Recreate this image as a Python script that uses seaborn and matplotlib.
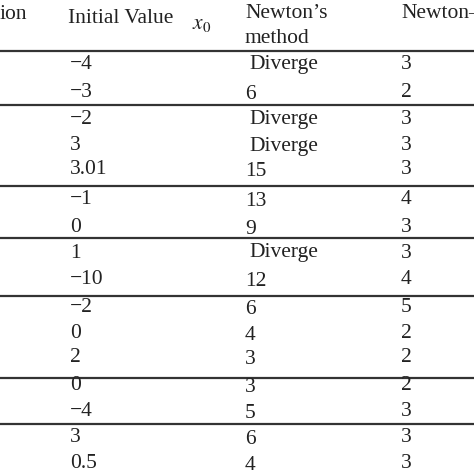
import matplotlib
matplotlib.use("Agg")
import matplotlib.pyplot as plt
import seaborn as sns

sns.set_theme(style="white")
plt.rcParams['font.family'] = ['Liberation Serif', 'DejaVu Serif']
plt.rcParams['mathtext.fontset'] = 'stix'

initial_values = ["\u22124", "\u22123", "\u22122", "3", "3.01", "\u22121", "0", "1", "\u221210",
                  "\u22122", "0", "2", "0", "\u22124", "3", "0.5"]
newton = ["Diverge", "6", "Diverge", "Diverge", "15", "13", "9", "Diverge", "12",
          "6", "4", "3", "3", "5", "6", "4"]
newton_other = ["3", "2", "3", "3", "3", "4", "3", "3", "4", "5", "2", "2", "2", "3", "3", "3"]

row_y = [64, 92, 119, 146, 170, 200, 227, 253, 279, 307, 333, 357, 386, 411, 438, 464]
sep_y = [51, 105, 186, 238, 296, 378, 424]

fig = plt.figure(figsize=(4.74, 4.74), dpi=100)
ax = fig.add_axes([0, 0, 1, 1])
ax.set_xlim(0, 474)
ax.set_ylim(474, 0)
ax.axis("off")

fs = 15.5
col = "#222222"
ax.text(0, 14, "ion", ha="left", va="center", fontsize=fs, color=col)
ax.text(68, 18, "Initial Value", ha="left", va="center", fontsize=fs, color=col)
ax.text(192, 24, "$x_0$", ha="left", va="center", fontsize=fs, color=col)
ax.text(245, 13, "Newton\u2019s", ha="left", va="center", fontsize=fs, color=col)
ax.text(245, 38, "method", ha="left", va="center", fontsize=fs, color=col)
ax.text(401, 13, "Newton\u2013", ha="left", va="center", fontsize=fs, color=col)

for y in sep_y:
    ax.plot([0, 474], [y, y], color="#333333", lw=1.6)

for y, a, b, c in zip(row_y, initial_values, newton, newton_other):
    ax.text(70, y, a, ha="left", va="center", fontsize=fs, color=col)
    ax.text(249 if b == "Diverge" else 245, y + (0 if b == "Diverge" else 2), b,
            ha="left", va="center", fontsize=fs, color=col)
    ax.text(401, y, c, ha="left", va="center", fontsize=fs, color=col)

fig.savefig("out.png", dpi=100)
